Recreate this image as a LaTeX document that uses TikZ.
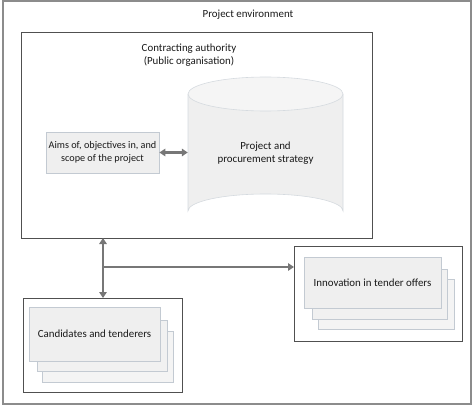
\documentclass[tikz,border=0pt]{standalone}
\usepackage{fontspec}
\setmainfont{Carlito}
\usetikzlibrary{arrows.meta,calc}
\definecolor{framegray}{HTML}{8C8C8C}
\definecolor{boxgray}{HTML}{505050}
\definecolor{cardfill}{HTML}{EFEFEF}
\definecolor{cardline}{HTML}{C3CAD2}
\definecolor{arrowgray}{HTML}{777777}
\tikzset{
	card/.style={draw=cardline, fill=cardfill, line width=0.8pt},
	frame/.style={draw=boxgray, line width=0.9pt},
	link/.style={draw=arrowgray, line width=2.5pt, {Triangle[length=6pt,width=7.5pt]}-{Triangle[length=6pt,width=7.5pt]}},
	lbl/.style={font=\fontsize{10.9}{13.5}\selectfont, text=black!90, align=center, inner sep=0pt}
}

\begin{document}
\begin{tikzpicture}[x=1pt, y=-1pt]
			%%%%% START %%%%%
			\useasboundingbox (0, 0) rectangle (474, 409);
			
			\draw[draw=framegray, line width=2pt] (3, 1) rectangle (471, 404);
			\node[lbl] (env) at (248, 14.5) {Project environment};
			
			% contracting authority
			\draw[frame] (21, 32) rectangle (372, 238);
			\node[lbl] (auth) at (189, 55) {Contracting authority\\(Public organisation)};
			\coordinate (ca) at (196.5, 238);
			
			% cylinder
			\draw[draw=cardline!70, fill=cardfill, line width=0.6pt] (188, 94) -- (188, 211) arc (180:360:77.5 and 17) -- (343, 94);
			\draw[draw=cardline!70, fill=cardfill!60, line width=0.6pt] (265.5, 94) ellipse (77.5 and 17);
			\node[lbl, minimum width=155pt] (strategy) at (265.5, 153) {Project and\\procurement strategy};
			
			\node[card, lbl, font=\fontsize{10.2}{13}\selectfont, minimum width=113pt, minimum height=41pt] (aims) at (102.5, 152.5) {Aims of, objectives in, and\\scope of the project};
			\draw[link] (aims.east) -- (aims.east -| strategy.west);
			
			% candidates
			\draw[frame] (23, 298) rectangle (182, 392);
			\coordinate (cand) at (103, 298);
			\draw[card, fill=cardfill!70] (42, 331) rectangle (173, 382);
			\draw[card, fill=cardfill!85] (37, 320) rectangle (167, 371);
			\node[card, lbl, minimum width=131pt, minimum height=54pt] (tenderers) at (94.5, 334) {Candidates and tenderers};
			
			% innovation
			\draw[frame] (294, 246) rectangle (462, 341);
			\coordinate (innov) at (294, 267);
			\draw[card, fill=cardfill!70] (318, 279) rectangle (454, 329);
			\draw[card, fill=cardfill!85] (312, 269) rectangle (447, 319);
			\node[card, lbl, minimum width=137pt, minimum height=51pt] (offers) at (372.5, 282.5) {Innovation in tender offers};
			
			% links
			\coordinate (hub) at (103, 267);
			\draw[link] (hub |- ca) -- (cand);
			\draw[link, {Triangle[length=6pt,width=7.5pt]}-] (innov) -- (hub);
			
			%%%%% END %%%%%
\end{tikzpicture}
\end{document}
